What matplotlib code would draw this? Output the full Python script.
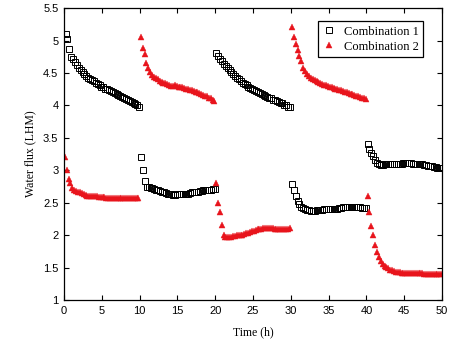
import matplotlib
matplotlib.use("Agg")
import matplotlib.pyplot as plt
import numpy as np


# sample spacing inside each 10 h run (h)
step = 0.25

# start time of each run, combination 1 (squares)
c1_start = [0.2, 10.2, 20.15, 30.15, 40.15]
c1_runs = [
	[5.10, 5.02, 4.87, 4.75, 4.72, 4.67, 4.63, 4.58, 4.55, 4.51, 4.48, 4.45, 4.43, 4.41, 4.39, 4.37, 4.35, 4.33, 4.31, 4.29,
	 4.28, 4.26, 4.25, 4.23, 4.22, 4.20, 4.19, 4.17, 4.16, 4.14, 4.13, 4.11, 4.10, 4.08, 4.07, 4.05, 4.04, 4.02, 4.00, 3.98],
	[3.21, 3.00, 2.84, 2.75, 2.74, 2.73, 2.72, 2.71, 2.70, 2.69, 2.68, 2.67, 2.66, 2.65, 2.64, 2.63, 2.63, 2.62, 2.62, 2.63,
	 2.63, 2.63, 2.63, 2.63, 2.63, 2.64, 2.65, 2.66, 2.66, 2.67, 2.67, 2.68, 2.68, 2.69, 2.69, 2.70, 2.70, 2.70, 2.71, 2.71],
	[4.81, 4.76, 4.72, 4.68, 4.64, 4.61, 4.58, 4.54, 4.51, 4.48, 4.45, 4.42, 4.40, 4.37, 4.35, 4.33, 4.31, 4.29, 4.27, 4.25,
	 4.23, 4.22, 4.20, 4.19, 4.17, 4.16, 4.15, 4.13, 4.12, 4.11, 4.09, 4.08, 4.07, 4.05, 4.04, 4.03, 4.01, 4.00, 3.98, 3.97],
	[2.79, 2.70, 2.61, 2.52, 2.48, 2.44, 2.42, 2.40, 2.39, 2.39, 2.38, 2.38, 2.38, 2.39, 2.39, 2.39, 2.39, 2.40, 2.40, 2.40,
	 2.40, 2.40, 2.41, 2.41, 2.41, 2.42, 2.42, 2.43, 2.43, 2.43, 2.43, 2.43, 2.43, 2.43, 2.43, 2.43, 2.43, 2.42, 2.42, 2.42],
	[3.41, 3.33, 3.27, 3.22, 3.16, 3.11, 3.09, 3.08, 3.08, 3.09, 3.09, 3.09, 3.10, 3.10, 3.10, 3.10, 3.10, 3.10, 3.10, 3.11,
	 3.11, 3.11, 3.11, 3.11, 3.10, 3.10, 3.10, 3.10, 3.09, 3.09, 3.08, 3.08, 3.07, 3.07, 3.06, 3.05, 3.05, 3.04, 3.03, 3.03],
]

# start time of each run, combination 2 (triangles)
c2_start = [0.1, 10.15, 20.1, 30.15, 40.15]
c2_runs = [
	[3.21, 3.00, 2.86, 2.80, 2.73, 2.70, 2.68, 2.67, 2.66, 2.65, 2.64, 2.62, 2.61, 2.60, 2.60, 2.60, 2.60, 2.60, 2.59, 2.59,
	 2.59, 2.59, 2.58, 2.58, 2.58, 2.58, 2.58, 2.58, 2.57, 2.57, 2.57, 2.57, 2.57, 2.57, 2.57, 2.57, 2.57, 2.58, 2.58, 2.58],
	[5.06, 4.88, 4.80, 4.66, 4.57, 4.51, 4.47, 4.44, 4.42, 4.40, 4.38, 4.36, 4.35, 4.34, 4.33, 4.31, 4.30, 4.30, 4.31, 4.30,
	 4.29, 4.28, 4.28, 4.27, 4.26, 4.25, 4.24, 4.23, 4.22, 4.21, 4.20, 4.19, 4.18, 4.16, 4.15, 4.14, 4.12, 4.11, 4.09, 4.07],
	[2.80, 2.50, 2.35, 2.16, 2.00, 1.98, 1.98, 1.98, 1.98, 1.99, 1.99, 2.00, 2.00, 2.00, 2.01, 2.02, 2.03, 2.04, 2.05, 2.06,
	 2.07, 2.08, 2.09, 2.10, 2.10, 2.11, 2.11, 2.11, 2.11, 2.11, 2.11, 2.10, 2.10, 2.10, 2.10, 2.10, 2.10, 2.10, 2.10, 2.11],
	[5.21, 5.06, 4.95, 4.85, 4.76, 4.69, 4.58, 4.53, 4.49, 4.46, 4.43, 4.41, 4.39, 4.37, 4.36, 4.34, 4.33, 4.32, 4.31, 4.30,
	 4.29, 4.28, 4.27, 4.26, 4.25, 4.24, 4.23, 4.22, 4.21, 4.20, 4.19, 4.18, 4.17, 4.16, 4.15, 4.14, 4.13, 4.12, 4.11, 4.10],
	[2.61, 2.35, 2.14, 2.00, 1.85, 1.74, 1.66, 1.60, 1.56, 1.53, 1.51, 1.49, 1.47, 1.46, 1.45, 1.44, 1.43, 1.43, 1.42, 1.42,
	 1.42, 1.42, 1.41, 1.41, 1.41, 1.41, 1.41, 1.41, 1.41, 1.41, 1.40, 1.40, 1.40, 1.40, 1.40, 1.40, 1.40, 1.40, 1.40, 1.40],
]

x_ticks = [0, 5, 10, 15, 20, 25, 30, 35, 40, 45, 50]
y_ticks = [1, 1.5, 2, 2.5, 3, 3.5, 4, 4.5, 5, 5.5]
y_labels = ["1", "1.5", "2", "2.5", "3", "3.5", "4", "4.5", "5", "5.5"]


def build(starts, runs):
	t_all = []
	v_all = []
	for k in range(len(runs)):
		vals = runs[k]
		t = starts[k] + step * np.arange(len(vals))
		t_all.extend(t)
		v_all.extend(vals)
	#end_for
	return np.array(t_all), np.array(v_all)
#end_def


def main():

	t1, v1 = build(c1_start, c1_runs)
	t2, v2 = build(c2_start, c2_runs)

	fig = plt.figure(figsize = (4.74, 3.51), dpi = 100)
	ax = fig.add_axes([0.135, 0.145, 0.7975, 0.832])

	ax.plot(t1, v1, linestyle = "none", marker = "s", markersize = 3.8,
		markerfacecolor = "none", markeredgecolor = "black", markeredgewidth = 0.7,
		label = "Combination 1")
	ax.plot(t2, v2, linestyle = "none", marker = "^", markersize = 3.9,
		markerfacecolor = "#e8141c", markeredgecolor = "#e8141c", markeredgewidth = 0.3,
		label = "Combination 2")

	ax.set_xlim(0, 50)
	ax.set_ylim(1, 5.5)
	ax.set_xticks(x_ticks)
	ax.set_yticks(y_ticks)
	ax.set_yticklabels(y_labels)

	ax.tick_params(direction = "in", top = True, right = True, length = 3.5, width = 0.8,
		labelsize = 8, pad = 4)
	for lab in ax.get_xticklabels() + ax.get_yticklabels():
		lab.set_fontfamily("Liberation Sans")
	#end_for
	for sp in ax.spines.values():
		sp.set_linewidth(0.9)
	#end_for

	ax.set_xlabel("Time (h)", fontsize = 8.5, family = "Liberation Serif", labelpad = 8)
	ax.set_ylabel("Water flux (LHM)", fontsize = 8.5, family = "Liberation Serif", labelpad = 5)

	leg = ax.legend(loc = "upper right", bbox_to_anchor = (0.95, 0.955), fancybox = False,
		edgecolor = "black", framealpha = 1, borderpad = 0.35, handlelength = 1.1,
		handletextpad = 0.6, labelspacing = 0.25, borderaxespad = 0,
		prop = {"family": "Liberation Serif", "size": 9})
	leg.get_frame().set_linewidth(0.9)

	fig.savefig("out.png", dpi = 100)

	return
#end_def


main()
